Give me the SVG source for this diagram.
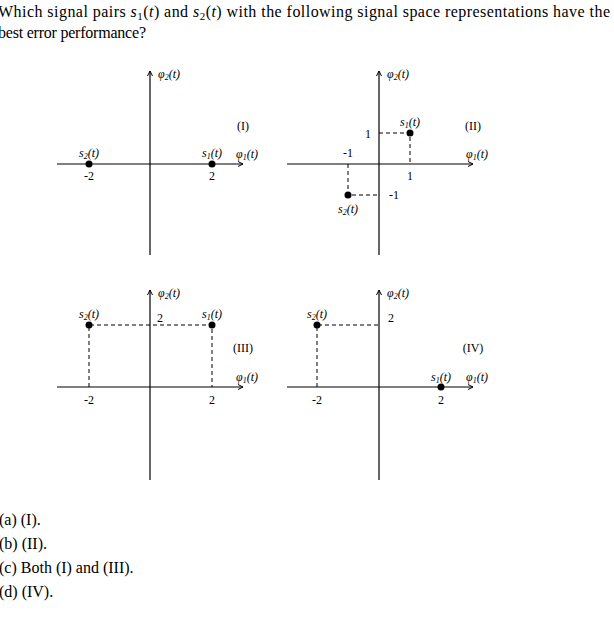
<svg xmlns="http://www.w3.org/2000/svg" width="614" height="630" viewBox="0 0 614 630">
<defs>
<style>
text{font-family:"Liberation Serif","DejaVu Serif",serif;fill:#000}
.q{font-size:16px}
.l{font-size:12px;font-style:italic}
.n{font-size:12px}
.ax{stroke:#000;stroke-width:1.2;fill:none}
.d{stroke:#000;stroke-width:1;stroke-dasharray:4,3;fill:none}
</style>
<marker id="a" markerWidth="6" markerHeight="6" refX="5" refY="3" orient="auto" markerUnits="userSpaceOnUse"><path d="M0,0.5 L5,3 L0,5.5" fill="none" stroke="#000"/></marker>
</defs>
<rect width="614" height="630" fill="#fff"/>
<text class="q" x="-2" y="17" textLength="612" lengthAdjust="spacing">Which signal pairs <tspan font-style="italic">s</tspan><tspan font-size="11" dy="3">1</tspan><tspan dy="-3">(</tspan><tspan font-style="italic">t</tspan>) and <tspan font-style="italic">s</tspan><tspan font-size="11" dy="3">2</tspan><tspan dy="-3">(</tspan><tspan font-style="italic">t</tspan>) with the following signal space representations have the</text>
<text class="q" x="-2" y="38" textLength="148" lengthAdjust="spacing">best error performance?</text>
<g id="connectors">
<path class="ax" d="M57,164 H243" marker-end="url(#a)"/><path class="ax" d="M150,255 V71" marker-end="url(#a)"/>
<path class="ax" d="M287,164 H473" marker-end="url(#a)"/><path class="ax" d="M379,255 V71" marker-end="url(#a)"/>
<path class="d" d="M379,133 H410 V164 M348,164 V195 H379"/>
<path class="ax" d="M57,387 H243" marker-end="url(#a)"/><path class="ax" d="M150,480 V290" marker-end="url(#a)"/>
<path class="d" d="M89,387 V325 H212 V387"/>
<path class="ax" d="M287,387 H473" marker-end="url(#a)"/><path class="ax" d="M379,480 V290" marker-end="url(#a)"/>
<path class="d" d="M317,387 V325 H379"/>
</g>
<g id="I">
<circle cx="212" cy="164" r="3.5"/><circle cx="89" cy="164" r="3.5"/>
<text class="l" x="158" y="78">φ<tspan font-size="8" dy="2">2</tspan><tspan dy="-2">(t)</tspan></text>
<text class="n" x="243" y="130" text-anchor="middle">(I)</text>
<text class="l" x="236" y="158">φ<tspan font-size="8" dy="2">1</tspan><tspan dy="-2">(t)</tspan></text>
<text class="l" x="212" y="157" text-anchor="middle">s<tspan font-size="8" dy="2">1</tspan><tspan dy="-2">(t)</tspan></text>
<text class="l" x="89" y="157" text-anchor="middle">s<tspan font-size="8" dy="2">2</tspan><tspan dy="-2">(t)</tspan></text>
<text class="n" x="212" y="180" text-anchor="middle">2</text><text class="n" x="89" y="180" text-anchor="middle">-2</text>
</g>
<g id="II">
<circle cx="410" cy="133" r="3.5"/><circle cx="348" cy="195" r="3.5"/>
<text class="l" x="387" y="78">φ<tspan font-size="8" dy="2">2</tspan><tspan dy="-2">(t)</tspan></text>
<text class="n" x="473" y="130" text-anchor="middle">(II)</text>
<text class="l" x="466" y="158">φ<tspan font-size="8" dy="2">1</tspan><tspan dy="-2">(t)</tspan></text>
<text class="l" x="410" y="126" text-anchor="middle">s<tspan font-size="8" dy="2">1</tspan><tspan dy="-2">(t)</tspan></text>
<text class="l" x="348" y="213" text-anchor="middle">s<tspan font-size="8" dy="2">2</tspan><tspan dy="-2">(t)</tspan></text>
<text class="n" x="368" y="138" text-anchor="middle">1</text><text class="n" x="348" y="157" text-anchor="middle">-1</text>
<text class="n" x="410" y="180" text-anchor="middle">1</text><text class="n" x="394" y="199" text-anchor="middle">-1</text>
</g>
<g id="III">
<circle cx="89" cy="325" r="3.5"/><circle cx="212" cy="325" r="3.5"/>
<text class="l" x="158" y="297">φ<tspan font-size="8" dy="2">2</tspan><tspan dy="-2">(t)</tspan></text>
<text class="n" x="160" y="322" text-anchor="middle">2</text>
<text class="l" x="212" y="318" text-anchor="middle">s<tspan font-size="8" dy="2">1</tspan><tspan dy="-2">(t)</tspan></text>
<text class="l" x="89" y="318" text-anchor="middle">s<tspan font-size="8" dy="2">2</tspan><tspan dy="-2">(t)</tspan></text>
<text class="n" x="243" y="352" text-anchor="middle">(III)</text>
<text class="l" x="236" y="381">φ<tspan font-size="8" dy="2">1</tspan><tspan dy="-2">(t)</tspan></text>
<text class="n" x="212" y="404" text-anchor="middle">2</text><text class="n" x="89" y="404" text-anchor="middle">-2</text>
</g>
<g id="IV">
<circle cx="317" cy="325" r="3.5"/><circle cx="441" cy="387" r="3.5"/>
<text class="l" x="387" y="297">φ<tspan font-size="8" dy="2">2</tspan><tspan dy="-2">(t)</tspan></text>
<text class="n" x="391" y="322" text-anchor="middle">2</text>
<text class="l" x="317" y="318" text-anchor="middle">s<tspan font-size="8" dy="2">2</tspan><tspan dy="-2">(t)</tspan></text>
<text class="n" x="473" y="352" text-anchor="middle">(IV)</text>
<text class="l" x="441" y="381" text-anchor="middle">s<tspan font-size="8" dy="2">1</tspan><tspan dy="-2">(t)</tspan></text>
<text class="l" x="466" y="381">φ<tspan font-size="8" dy="2">1</tspan><tspan dy="-2">(t)</tspan></text>
<text class="n" x="441" y="404" text-anchor="middle">2</text><text class="n" x="317" y="404" text-anchor="middle">-2</text>
</g>
<text class="q" x="-1" y="525">(a) (I).</text>
<text class="q" x="-1" y="549">(b) (II).</text>
<text class="q" x="-1" y="573">(c) Both (I) and (III).</text>
<text class="q" x="-1" y="597">(d) (IV).</text>
</svg>
